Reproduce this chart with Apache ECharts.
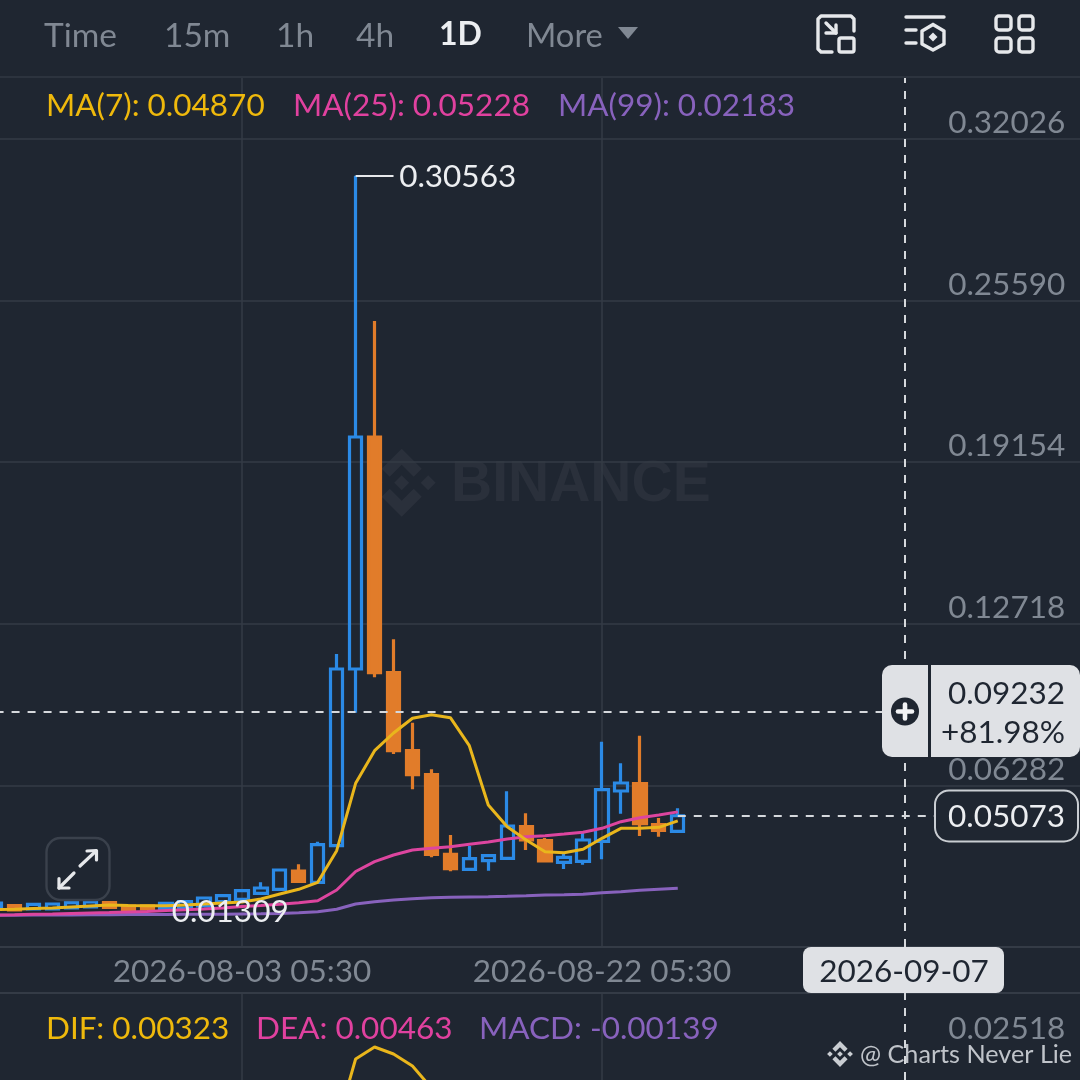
<!DOCTYPE html>
<html><head><meta charset="utf-8">
<style>html,body{margin:0;padding:0;background:#1f2631}#c{width:1080px;height:1080px}</style>
<script src="https://cdn.jsdelivr.net/npm/echarts@6/dist/echarts.min.js"></script>
</head><body><div id="c"></div>
<script>
const dates = ['2026-07-21','2026-07-22','2026-07-23','2026-07-24','2026-07-25','2026-07-26','2026-07-27','2026-07-28','2026-07-29','2026-07-30','2026-07-31',
'2026-08-01','2026-08-02','2026-08-03','2026-08-04','2026-08-05','2026-08-06','2026-08-07','2026-08-08','2026-08-09','2026-08-10','2026-08-11','2026-08-12','2026-08-13','2026-08-14','2026-08-15','2026-08-16','2026-08-17','2026-08-18','2026-08-19','2026-08-20','2026-08-21','2026-08-22','2026-08-23','2026-08-24','2026-08-25','2026-08-26','2026-08-27','2026-08-28','2026-08-29','2026-08-30','2026-08-31',
'2026-09-01','2026-09-02','2026-09-03','2026-09-04','2026-09-05','2026-09-06','2026-09-07','2026-09-08','2026-09-09','2026-09-10','2026-09-11','2026-09-12','2026-09-13','2026-09-14','2026-09-15','2026-09-16'];
const opens = [.01399,.01491,.01359,.01359,.01399,.01439,.01610,.01479,.01479,.01371,.01399,.01479,.01650,.01746,.01985,.02144,.02873,.02423,.03880,.10918,.20157,.10770,.07664,.06708,.03538,.02940,.03283,.03379,.04637,.04080,.03219,.03259,.04056,.06059,.06350,.04717,.04454];
const closes = [.01598,.01320,.01547,.01559,.01610,.01638,.01427,.01320,.01359,.01586,.01650,.01797,.01889,.02088,.02196,.02913,.02463,.03920,.10918,.20157,.10770,.07664,.06708,.03538,.02964,.03363,.03482,.04665,.04107,.03271,.03418,.04107,.06111,.06377,.04757,.04494,.05073];
const lows = [.01399,.01320,.01359,.01359,.01399,.01439,.01427,.01320,.01359,.01309,.01399,.01479,.01650,.01746,.01985,.02144,.02463,.02423,.03880,.09177,.10587,.07532,.06127,.03418,.02861,.02885,.02885,.03323,.03709,.03219,.02952,.03124,.03339,.05155,.04267,.04239,.04454];
const highs = [.01598,.01559,.01547,.01559,.01610,.01638,.01610,.01479,.01479,.01586,.01650,.01837,.01889,.02156,.02423,.02964,.03140,.04040,.11515,.30563,.24777,.12100,.08779,.06923,.04307,.03868,.03500,.06047,.05171,.04187,.03550,.04426,.08022,.07162,.08261,.04984,.05370];
const ma7 = [.01339,.01347,.01379,.01399,.01439,.01479,.01519,.01499,.01491,.01491,.01519,.01559,.01598,.01638,.01758,.01957,.02144,.02423,.03681,.06366,.07664,.08369,.08954,.09098,.08978,.07863,.05501,.04637,.04107,.03641,.03602,.03737,.04175,.04573,.04573,.04613,.04870];
const ma25 = [.01120,.01132,.01148,.01160,.01180,.01200,.01216,.01240,.01260,.01300,.01328,.01359,.01399,.01459,.01499,.01547,.01610,.01690,.02116,.02853,.03243,.03510,.03709,.03777,.03841,.03936,.04028,.04147,.04239,.04279,.04346,.04414,.04573,.04836,.04995,.05103,.05228];
const ma99 = [.01108,.01112,.01116,.01120,.01124,.01128,.01132,.01136,.01140,.01144,.01146,.01148,.01152,.01160,.01168,.01180,.01208,.01252,.01347,.01559,.01650,.01718,.01770,.01809,.01825,.01837,.01849,.01865,.01889,.01917,.01929,.01945,.02009,.02048,.02104,.02144,.02183];
const difDates = ['2026-08-08','2026-08-09','2026-08-10','2026-08-11','2026-08-12','2026-08-13'];
const difValues = [.0044,.02154,.02466,.02284,.01972,.0140];
const priceTicks = [-0.00154,0.06282,0.12718,0.19154,0.25590,0.32026];
const priceLabels = [0.06282,0.12718,0.19154,0.25590,0.32026];
const macdLabels = [0.02518];
const xLabelDates = ['2026-08-03','2026-08-22'];
const highPoint = {date:'2026-08-09', value:0.30563, labelDate:'2026-08-11'};
const lowPoint = {date:'2026-07-30', value:0.01309};
const crossDate = '2026-09-07', crossPrice = 0.09232, crossPriceEnd = '2026-09-06';
const lastDate = '2026-08-26', lastPrice = 0.05073, lastPriceEnd = '2026-09-09';

const FONT = 'Lato', BG = '#1f2631', GRID = '#343b46', GREY = '#808893', LIGHT = '#e3e5e9', DARK = '#1f2631';
const BLUE = '#2b8ae6', ORANGE = '#e17c2a', GOLD = '#e9b61c', PINK = '#dd459f', PURPLE = '#8862bd';
const XUNIT = 18.95, GL = -13.9, GW = XUNIT * dates.length;
const FS = 31.5;

const dashStyle = {color:'#d5d8dc', width:2, type:[8,8]};
const isLabelled = (i, v) => xLabelDates.includes(v);

function txt(text, x, y, color, size, align, weight){
  return {type:'text', z:50, silent:true, style:{text, x, y, fill:color, font:(weight||'normal')+' '+size+'px '+FONT, textAlign:align||'left', textVerticalAlign:'middle'}};
}
function line(x1,y1,x2,y2,color,w,z){
  return {type:'line', z:z==null?50:z, silent:true, shape:{x1,y1,x2,y2}, style:{stroke:color, lineWidth:w, lineCap:'round'}};
}
function rrect(x,y,width,height,r,fill,stroke,w,z){
  return {type:'rect', z:z==null?50:z, silent:true, shape:{x,y,width,height,r}, style:{fill:fill||'none', stroke:stroke||'none', lineWidth:w||0}};
}
function poly(pts,fill,z){ return {type:'polygon', z:z==null?50:z, silent:true, shape:{points:pts}, style:{fill}}; }
function pline(pts,color,w,z){ return {type:'polyline', z:z==null?50:z, silent:true, shape:{points:pts}, style:{stroke:color, lineWidth:w, fill:'none', lineCap:'round', lineJoin:'round'}}; }
function logo(cx,cy,s,fill,z){
  const m=(pts)=>pts.map(p=>[cx+p[0]*s,cy+p[1]*s]);
  const d=(ox,oy,r)=>m([[ox,oy-r],[ox+r,oy],[ox,oy+r],[ox-r,oy]]);
  return [
    poly(m([[0,-34],[20,-14],[12,-6],[0,-18],[-12,-6],[-20,-14]]),fill,z),
    poly(m([[0,34],[20,14],[12,6],[0,18],[-12,6],[-20,14]]),fill,z),
    poly(d(0,0,7.5),fill,z),poly(d(26.5,0,7.5),fill,z),poly(d(-26.5,0,7.5),fill,z)
  ];
}
const ICON = '#e6e8eb';
const graphics = [
  // watermark
  ...logo(401.7,482.7,1,'#2a303b',-1),
  {type:'text', z:-1, silent:true, style:{text:'BINANCE', x:451, y:485, fill:'#2a303b', font:'bold 57px "Liberation Sans"', textVerticalAlign:'middle'}},
  // toolbar
  line(0,77,1080,77,'#2c333e',2,1),
  txt('Time',44,36,GREY,33.5), txt('15m',164,36,GREY,33.5), txt('1h',276,36,GREY,33.5), txt('4h',356,36,GREY,33.5),
  txt('1D',439,35,'#eceef1',32,'left','bold'), txt('More',526,36,GREY,32.7),
  poly([[618,27],[638,27],[628,39]],GREY),
  // icon 1
  pline([[832,52],[821,52],[818,49],[818,19],[821,16],[851,16],[854,19],[854,31]],ICON,3.4),
  rrect(839,38,15,14,2,null,ICON,3.4),
  pline([[826,23],[836,33]],ICON,3.4), pline([[826,33],[836,33],[836,25]],ICON,3.4),
  // icon 2
  line(906,17,944,17,ICON,3.4), line(906,30,916,30,ICON,3.4), line(906,43,916,43,ICON,3.4),
  pline([[933,24.5],[944,31],[944,44],[933,50],[922,44],[922,31],[933,24.5]],ICON,3.4),
  poly([[933,32.5],[937.5,37],[933,41.5],[928.5,37]],ICON),
  // icon 3
  rrect(996,16,15,14,3,null,ICON,3.4), rrect(1019,16,14,14,3,null,ICON,3.4),
  rrect(996,38,15,14,3,null,ICON,3.4), rrect(1019,38,14,14,3,null,ICON,3.4),
  // indicator read-outs
  txt('MA(7): 0.04870',46,106,'#efb90c',FS), txt('MA(25): 0.05228',293,106,'#e0419f',FS), txt('MA(99): 0.02183',558,106,PURPLE,FS),
  txt('DIF: 0.00323',46,1029,'#efb90c',FS), txt('DEA: 0.00463',256,1029,'#e0419f',FS), txt('MACD: -0.00139',479,1029,PURPLE,FS),
  // expand button
  rrect(46.5,838,63,62,14,null,'#3a414c',2.4),
  pline([[80,866],[96,851]],ICON,3.2), pline([[87,851],[96.5,850.5],[96.5,860]],ICON,3.2),
  pline([[74,873],[59,888]],ICON,3.2), pline([[59,878.5],[59,888],[69,888]],ICON,3.2),
  // cross price tag
  rrect(882,665,46,92,[10,0,0,10],'#dfe1e5'), rrect(931,665,149,92,[0,10,10,0],'#dfe1e5'),
  {type:'circle', z:51, silent:true, shape:{cx:905,cy:711.5,r:14}, style:{fill:DARK}},
  line(898,711.5,912,711.5,'#f2f3f5',4.6,52), line(905,704.5,905,718.5,'#f2f3f5',4.6,52),
  txt('0.09232',1065,694,'#1f2631',FS,'right'), txt('+81.98%',1065,733,'#1f2631',FS,'right'),
  // last price tag
  rrect(935,790.5,143,51,14,BG,'#c9cdd2',2),
  txt('0.05073',1065,817,'#eceef1',FS,'right'),
  // cross date tag
  rrect(803,947,201,46,8,'#dfe1e5'),
  txt('2026-09-07',904,972,'#1f2631',FS,'center'),
  // attribution
  ...logo(840,1054,0.38,'#c9cdd2',50),
  txt('@ Charts Never Lie',860,1055,'#c0c4ca',25.2)
];

const chart = echarts.init(document.getElementById('c'), null, {width:1080,height:1080,renderer:'canvas'});
chart.setOption({
  animation:false, backgroundColor:BG,
  tooltip:{show:false},
  grid:[
    {left:GL, top:78, width:GW, height:869, outerBoundsMode:'none'},
    {left:GL, top:993, width:GW, height:87, outerBoundsMode:'none'}
  ],
  xAxis:[
    {type:'category', gridIndex:0, data:dates, boundaryGap:true,
     axisLine:{show:true, onZero:false, lineStyle:{color:GRID, width:2}}, axisTick:{show:false, alignWithLabel:true},
     axisLabel:{interval:isLabelled, formatter:v=>v+' 05:30', color:GREY, fontSize:FS, fontFamily:FONT, margin:9},
     splitLine:{show:true, alignWithLabel:true, interval:isLabelled, lineStyle:{color:GRID, width:1.5}}},
    {type:'category', gridIndex:1, data:dates, boundaryGap:true, position:'top',
     axisLine:{show:true, onZero:false, lineStyle:{color:GRID, width:2}}, axisTick:{show:false, alignWithLabel:true}, axisLabel:{show:false},
     splitLine:{show:true, alignWithLabel:true, interval:isLabelled, lineStyle:{color:GRID, width:1.5}}}
  ],
  yAxis:[
    {type:'value', gridIndex:0, position:'right', min:-0.00154, max:0.34455, scale:true,
     axisLine:{show:false}, axisTick:{show:false, customValues:priceTicks},
     axisLabel:{inside:true, margin:20, customValues:priceLabels, formatter:v=>v.toFixed(5), color:GREY, fontSize:FS, fontFamily:FONT, verticalAlign:'bottom', lineHeight:32},
     splitLine:{show:true, lineStyle:{color:GRID, width:1.5}}},
    {type:'value', gridIndex:1, position:'right', min:0.01608, max:0.0387, scale:true,
     axisLine:{show:false}, axisTick:{show:false},
     axisLabel:{inside:true, margin:20, customValues:macdLabels, formatter:v=>v.toFixed(5), color:GREY, fontSize:FS, fontFamily:FONT, verticalAlign:'bottom', lineHeight:32},
     splitLine:{show:false}}
  ],
  series:[
    {name:'Kline', type:'candlestick', xAxisIndex:0, yAxisIndex:0, barWidth:12.8,
     data:opens.map((o,i)=>[o,closes[i],lows[i],highs[i]]),
     itemStyle:{color:'transparent', color0:ORANGE, borderColor:BLUE, borderColor0:ORANGE, borderWidth:3.2}},
    {name:'MA(99)', type:'line', xAxisIndex:0, yAxisIndex:0, data:ma99, showSymbol:false, symbol:'none', lineStyle:{color:PURPLE, width:3},
     markLine:{silent:true, symbol:'none', animation:false, label:{show:false}, lineStyle:dashStyle, data:[
       [{coord:[dates[0],crossPrice]},{coord:[crossPriceEnd,crossPrice]}],
       [{coord:[lastDate,lastPrice]},{coord:[lastPriceEnd,lastPrice]}],
       {xAxis:crossDate},
       [{coord:[highPoint.date,highPoint.value], lineStyle:{color:'#e6e8eb',width:2,type:'solid'}},
        {coord:[highPoint.labelDate,highPoint.value]}]
     ]},
     markPoint:{silent:true, symbol:'circle', symbolSize:1, itemStyle:{color:'transparent'},
       label:{show:true, color:'#eceef1', fontSize:FS, fontFamily:FONT, formatter:p=>p.value.toFixed(5)},
       data:[
         {coord:[lowPoint.date,lowPoint.value], value:lowPoint.value, label:{position:[6,-14]}},
         {coord:[highPoint.date,highPoint.value], value:highPoint.value, label:{position:[44,-14]}}
       ]}},
    {name:'MA(25)', type:'line', xAxisIndex:0, yAxisIndex:0, data:ma25, showSymbol:false, symbol:'none', lineStyle:{color:PINK, width:3}},
    {name:'MA(7)', type:'line', xAxisIndex:0, yAxisIndex:0, data:ma7, showSymbol:false, symbol:'none', lineStyle:{color:GOLD, width:3}},
    {name:'DIF', type:'line', xAxisIndex:1, yAxisIndex:1, data:difDates.map((d,i)=>[d,difValues[i]]), showSymbol:false, symbol:'none', clip:true, lineStyle:{color:GOLD, width:3},
     markLine:{silent:true, symbol:'none', animation:false, label:{show:false}, lineStyle:dashStyle, data:[{xAxis:crossDate}]}}
  ],
  graphic:{elements:graphics}
});
</script>
</body></html>
